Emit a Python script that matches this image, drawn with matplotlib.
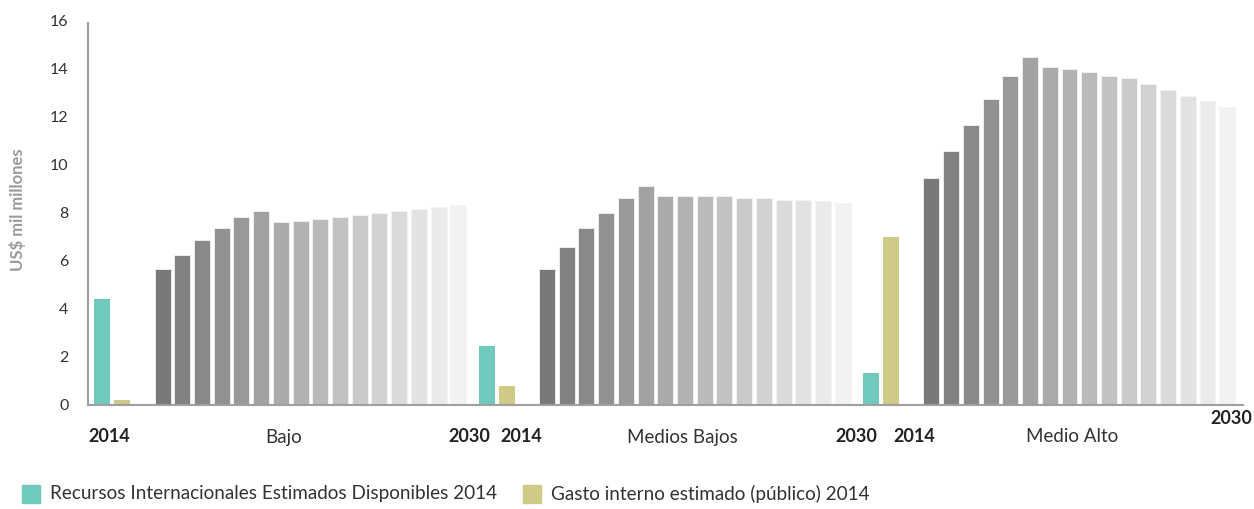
import matplotlib.pyplot as plt
import numpy as np

plt.rcParams['font.family'] = ['Lato', 'DejaVu Sans']

GROUPS = ['Bajo', 'Medios Bajos', 'Medio Alto']
INTL = [4.4, 2.45, 1.35]        # Recursos Internacionales Estimados Disponibles 2014
DOMESTIC = [0.2, 0.8, 7.0]      # Gasto interno estimado (público) 2014
BAJO = [5.68, 6.25, 6.89, 7.37, 7.85, 8.08, 7.61, 7.68, 7.76, 7.85, 7.93, 8.01, 8.10, 8.18, 8.26, 8.33]
MEDIOS_BAJOS = [5.67, 6.57, 7.36, 8.0, 8.64, 9.12, 8.72, 8.72, 8.72, 8.72, 8.64, 8.64, 8.56, 8.56, 8.49, 8.40]
MEDIO_ALTO = [9.45, 10.57, 11.68, 12.74, 13.7, 14.5, 14.1, 14.0, 13.86, 13.71, 13.61, 13.37, 13.12, 12.89, 12.65, 12.4]
SERIES = [BAJO, MEDIOS_BAJOS, MEDIO_ALTO]

TEAL = '#6fc9bd'
OLIVE = '#cfca86'
grays = [str(v) for v in np.linspace(0.475, 0.95, 16)]

fig = plt.figure(figsize=(12.54, 5.09), dpi=100)
ax = fig.add_axes([88 / 1254, 1 - 405 / 509, (1243 - 88) / 1254, 384 / 509])

W = 0.81
GROUP_STEP = 19.5
for g, vals in enumerate(SERIES):
    x0 = g * GROUP_STEP
    ax.bar(x0, INTL[g], width=W, color=TEAL, linewidth=0)
    ax.bar(x0 + 1, DOMESTIC[g], width=W, color=OLIVE, linewidth=0)
    xs = x0 + 3.05 + np.arange(len(vals))
    ax.bar(xs, vals, width=W, color=grays, edgecolor='#f4f4f4', linewidth=0.6)

ax.set_xlim(-0.73, 57.85)
ax.set_ylim(0, 16)
ax.set_yticks(range(0, 17, 2))
ax.tick_params(axis='y', length=0, pad=14, labelsize=11.5, labelcolor='#333333')
ax.set_xticks([])
for s in ['top', 'right']:
    ax.spines[s].set_visible(False)
for s in ['left', 'bottom']:
    ax.spines[s].set_color('#a0a0a0')
    ax.spines[s].set_linewidth(1.5)
ax.spines['left'].set_bounds(0, 15.9)

fig.text(18 / 1254, 1 - 210 / 509, 'US$ mil millones', rotation=90, ha='center', va='center',
         fontsize=12, fontweight='bold', color='#9a9a9a')

# labels under the axis
ly = 1 - 437 / 509
lab = dict(fontsize=13, fontweight='bold', color='#222222', va='center')
fig.text(88 / 1254, ly, '2014', ha='left', **lab)
fig.text(490 / 1254, ly, '2030', ha='right', **lab)
fig.text(500 / 1254, ly, '2014', ha='left', **lab)
fig.text(877 / 1254, ly, '2030', ha='right', **lab)
fig.text(893 / 1254, ly, '2014', ha='left', **lab)
fig.text(1252 / 1254, 1 - 419 / 509, '2030', ha='right', **lab)
for cx, name in zip([284, 682, 1072], GROUPS):
    fig.text(cx / 1254, ly, name, ha='center', va='center', fontsize=13.5, color='#333333')

# legend
legy = 1 - 494 / 509
for x, c, t in [(22, TEAL, 'Recursos Internacionales Estimados Disponibles 2014'),
                (523, OLIVE, 'Gasto interno estimado (público) 2014')]:
    fig.patches.append(plt.Rectangle((x / 1254, 1 - 503 / 509), 18 / 1254, 18 / 509,
                                     transform=fig.transFigure, color=c))
    fig.text((x + 28) / 1254, legy, t, ha='left', va='center', fontsize=13.6, color='#333333')

fig.savefig('out.png', dpi=100)
